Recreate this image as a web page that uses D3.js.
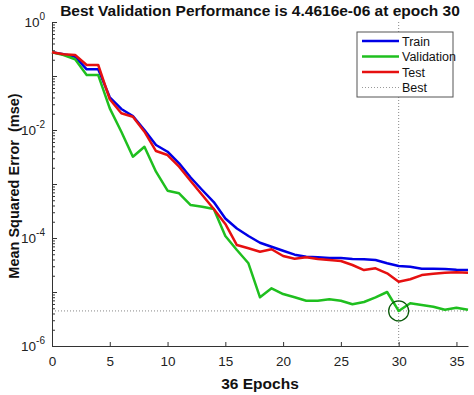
<!DOCTYPE html>
<html>
<head>
<meta charset="utf-8">
<script src="https://cdn.jsdelivr.net/npm/d3@7"></script>
<style>
  body { margin: 0; background: #fff; }
  text { font-family: "Liberation Sans", Arial, sans-serif; }
</style>
</head>
<body>
<div id="chart"></div>
<script>
// data (mse per epoch 0..36)
const epochs = d3.range(0, 37)
const train = [0.275, 0.252, 0.228, 0.133, 0.133, 0.0403, 0.0245, 0.0182, 0.01, 0.00527,
  0.00396, 0.00242, 0.00132, 0.000774, 0.000464, 0.00023, 0.00015, 0.000109, 8.18e-5, 6.9e-5,
  5.82e-5, 4.91e-5, 4.51e-5, 4.39e-5, 4.26e-5, 4.26e-5, 4.08e-5, 4.03e-5, 3.92e-5, 3.4e-5,
  3.03e-5, 2.94e-5, 2.7e-5, 2.7e-5, 2.67e-5, 2.59e-5, 2.55e-5]
const validation = [0.275, 0.245, 0.204, 0.104, 0.104, 0.0252, 0.0093, 0.0032, 0.0049, 0.00169,
  0.000751, 0.000673, 0.000408, 0.00038, 0.000344, 0.000109, 6.0e-5, 3.4e-5, 7.98e-6, 1.17e-5,
  9.18e-6, 7.98e-6, 6.9e-6, 6.9e-6, 7.33e-6, 6.9e-6, 5.92e-6, 6.53e-6, 7.98e-6, 1.0e-5,
  4.4616e-6, 6.18e-6, 5.74e-6, 5.34e-6, 4.7e-6, 5.1e-6, 4.7e-6]
const test = [0.275, 0.252, 0.245, 0.16, 0.16, 0.0371, 0.0204, 0.0176, 0.0093, 0.00408,
  0.00344, 0.00209, 0.00114, 0.000625, 0.000344, 0.000182, 7.41e-5, 6.44e-5, 5.57e-5, 6.18e-5,
  4.64e-5, 4.14e-5, 4.39e-5, 4.08e-5, 3.92e-5, 3.75e-5, 3.16e-5, 2.55e-5, 2.75e-5, 2.22e-5,
  1.55e-5, 1.72e-5, 2.06e-5, 2.18e-5, 2.28e-5, 2.32e-5, 2.28e-5]
const bestEpoch = 30
const bestValue = 4.4616e-6
const xTicks = [0, 5, 10, 15, 20, 25, 30, 35]
const yTickExps = [0, -2, -4, -6]
const seriesNames = ["Train", "Validation", "Test", "Best"]

// Constantes:
const width = 474
const height = 395
const margins = { top: 22, bottom: 49, left: 52, right: 6 }
const colors = { Train: "#0000e6", Validation: "#1fbf1f", Test: "#e61010", Best: "#999" }

const svg = d3.select("#chart").append("svg").attr("width", width).attr("height", height)

const x = d3.scaleLinear().domain([0, 36]).range([margins.left, width - margins.right])
const y = d3.scaleLog().domain([1e-6, 1]).range([height - margins.bottom, margins.top])

// best lines (dotted)
svg.append("line")
  .attr("x1", x(bestEpoch)).attr("x2", x(bestEpoch))
  .attr("y1", y(1)).attr("y2", y(1e-6))
  .attr("stroke", "#888").attr("stroke-width", 1).attr("stroke-dasharray", "1,2")
svg.append("line")
  .attr("x1", x(0)).attr("x2", x(36))
  .attr("y1", y(bestValue)).attr("y2", y(bestValue))
  .attr("stroke", "#888").attr("stroke-width", 1).attr("stroke-dasharray", "1,2")

// Ejes:
const xAxis = d3.axisBottom(x).tickValues(xTicks).tickSizeInner(-4).tickSizeOuter(0).tickPadding(10)
const gx = svg.append("g").attr("transform", `translate(0,${y(1e-6)})`).call(xAxis)
gx.selectAll("text").attr("font-size", 13.5).attr("fill", "#222")

const minorTicks = []
for (let e = -6; e < 0; e++) for (let m = 1; m < 10; m++) minorTicks.push(m * Math.pow(10, e))
minorTicks.push(1)
const yAxis = d3.axisLeft(y).tickValues(minorTicks).tickSizeInner(-3).tickSizeOuter(0).tickFormat("")
const gy = svg.append("g").attr("transform", `translate(${x(0)},0)`).call(yAxis)
gy.selectAll(".tick line").filter(d => Math.abs(Math.log10(d) - Math.round(Math.log10(d))) < 1e-9)
  .attr("x2", 5)

;[gx, gy].forEach(g => {
  g.select(".domain").attr("stroke", "#333").attr("stroke-width", 1)
  g.selectAll(".tick line").attr("stroke", "#333")
})

// y tick labels 10^n
yTickExps.forEach(ex => {
  const t = svg.append("text").attr("x", x(0) - 7).attr("y", y(Math.pow(10, ex)) + 5)
    .attr("text-anchor", "end").attr("font-size", 13.5).attr("fill", "#222")
  t.append("tspan").text("10")
  t.append("tspan").attr("dy", -7).attr("font-size", 10).text(ex)
})

// lineas
const line = vals => d3.line().x((d, i) => x(epochs[i])).y(d => y(d))(vals)
const series = [["Train", train], ["Validation", validation], ["Test", test]]
series.forEach(([name, vals]) => {
  svg.append("path").attr("d", line(vals)).attr("fill", "none")
    .attr("stroke", colors[name]).attr("stroke-width", 2.5).attr("stroke-linejoin", "round")
})

// circulo en el mejor
svg.append("circle").attr("cx", x(bestEpoch)).attr("cy", y(bestValue)).attr("r", 10)
  .attr("fill", "none").attr("stroke", "#0a5a0a").attr("stroke-width", 1.3)

// Titulos
svg.append("text").attr("x", (x(0) + x(36)) / 2).attr("y", 16).attr("text-anchor", "middle")
  .attr("font-size", 15.5).attr("font-weight", "bold").attr("fill", "#111")
  .text("Best Validation Performance is 4.4616e-06 at epoch 30")
svg.append("text").attr("x", (x(0) + x(36)) / 2).attr("y", 389).attr("text-anchor", "middle")
  .attr("font-size", 15.5).attr("font-weight", "bold").attr("fill", "#111").text("36 Epochs")
svg.append("text").attr("transform", `translate(19,${(y(1) + y(1e-6)) / 2 + 2}) rotate(-90)`)
  .attr("text-anchor", "middle").attr("font-size", 14.5).attr("font-weight", "bold")
  .attr("fill", "#111").style("white-space", "pre").text("Mean Squared Error  (mse)")

// Leyenda
const legend = svg.append("g").attr("transform", "translate(357,32)")
legend.append("rect").attr("width", 96).attr("height", 65)
  .attr("fill", "#fff").attr("stroke", "#555").attr("stroke-width", 1)
seriesNames.forEach((name, i) => {
  const ly = 9 + i * 15.5
  legend.append("line").attr("x1", 5).attr("x2", 42).attr("y1", ly).attr("y2", ly)
    .attr("stroke", colors[name])
    .attr("stroke-width", name === "Best" ? 1 : 2.5)
    .attr("stroke-dasharray", name === "Best" ? "1,2" : null)
  legend.append("text").attr("x", 45).attr("y", ly + 4.5).attr("font-size", 12.5)
    .attr("fill", "#111").text(name)
})
</script>
</body>
</html>
